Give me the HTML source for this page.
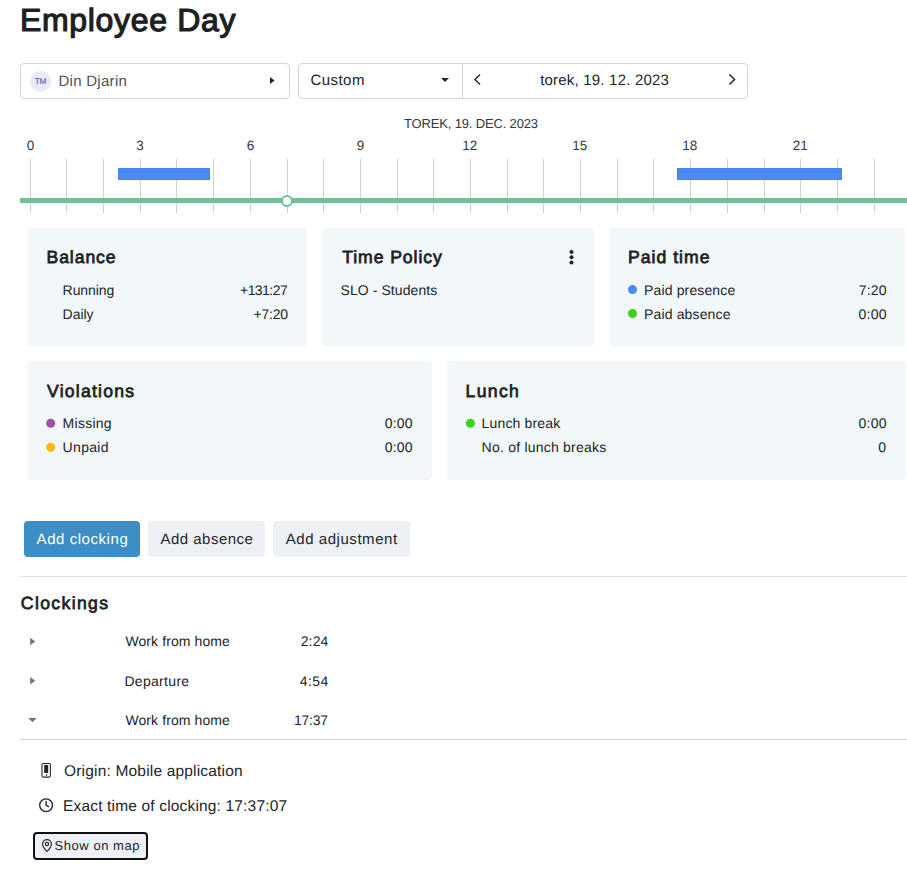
<!DOCTYPE html>
<html><head><meta charset="utf-8"><title>Employee Day</title>
<style>
html,body{margin:0;padding:0;background:#fff;width:907px;height:874px;overflow:hidden;position:relative}
body{font-family:"Liberation Sans",Arial,sans-serif}
.t{position:absolute;white-space:pre;text-rendering:geometricPrecision}
svg.ov{position:absolute;left:0;top:0}
</style></head><body>
<div class="t" style="left:19.90px;top:4.47px;font-size:32px;line-height:32px;-webkit-text-stroke:1.2px #1c1f23;color:#1c1f23;letter-spacing:0.691px;">Employee Day</div>
<div style="position:absolute;left:20px;top:63px;width:270px;height:36px;box-sizing:border-box;border:1px solid #cfd5dc;border-radius:4px;background:#fff"></div>
<div style="position:absolute;left:298px;top:63px;width:450px;height:36px;box-sizing:border-box;border:1px solid #cfd5dc;border-radius:4px;background:#fff"></div>
<div style="position:absolute;left:462px;top:63px;width:1px;height:36px;background:#cfd5dc"></div>
<div style="position:absolute;left:30px;top:71px;width:21px;height:21px;border-radius:50%;background:#e9ebf7"></div>
<div class="t" style="left:34.70px;top:77.34px;font-size:8.4px;line-height:8.4px;-webkit-text-stroke:0.15px #5a5eb4;color:#5a5eb4;letter-spacing:-0.400px;">TM</div>
<div class="t" style="left:58.40px;top:74.29px;font-size:15px;line-height:15px;color:#4a5057;letter-spacing:0.289px;">Din Djarin</div>
<div class="t" style="left:310.60px;top:73.09px;font-size:15px;line-height:15px;color:#212529;letter-spacing:0.420px;">Custom</div>
<div class="t" style="left:540.20px;top:73.09px;font-size:15px;line-height:15px;color:#212529;letter-spacing:0.200px;">torek, 19. 12. 2023</div>
<div class="t" style="left:404.00px;top:117.22px;font-size:13px;line-height:13px;color:#33383d;letter-spacing:-0.158px;">TOREK, 19. DEC. 2023</div>
<div class="t" style="left:26.70px;top:139.14px;font-size:13.5px;line-height:13.5px;color:#33383d;">0</div>
<div class="t" style="left:136.20px;top:139.14px;font-size:13.5px;line-height:13.5px;color:#33383d;">3</div>
<div class="t" style="left:246.70px;top:139.14px;font-size:13.5px;line-height:13.5px;color:#33383d;">6</div>
<div class="t" style="left:356.70px;top:139.14px;font-size:13.5px;line-height:13.5px;color:#33383d;">9</div>
<div class="t" style="left:462.20px;top:139.14px;font-size:13.5px;line-height:13.5px;color:#33383d;">12</div>
<div class="t" style="left:572.20px;top:139.14px;font-size:13.5px;line-height:13.5px;color:#33383d;">15</div>
<div class="t" style="left:682.20px;top:139.14px;font-size:13.5px;line-height:13.5px;color:#33383d;">18</div>
<div class="t" style="left:792.70px;top:139.14px;font-size:13.5px;line-height:13.5px;color:#33383d;">21</div>
<div style="position:absolute;left:28px;top:228px;width:279px;height:118px;background:#f2f7fa;border-radius:4px"></div>
<div style="position:absolute;left:322px;top:228px;width:272px;height:118px;background:#f2f7fa;border-radius:4px"></div>
<div style="position:absolute;left:609px;top:228px;width:296px;height:118px;background:#f2f7fa;border-radius:4px"></div>
<div style="position:absolute;left:28px;top:361px;width:404px;height:119px;background:#f2f7fa;border-radius:4px"></div>
<div style="position:absolute;left:447px;top:361px;width:459px;height:119px;background:#f2f7fa;border-radius:4px"></div>
<div class="t" style="left:46.50px;top:249.37px;font-size:17.6px;line-height:17.6px;-webkit-text-stroke:0.75px #1c1f23;color:#1c1f23;letter-spacing:0.917px;">Balance</div>
<div class="t" style="left:62.60px;top:283.04px;font-size:14px;line-height:14px;color:#212529;letter-spacing:-0.067px;">Running</div>
<div class="t" style="left:62.60px;top:306.84px;font-size:14px;line-height:14px;color:#212529;letter-spacing:-0.025px;">Daily</div>
<div class="t" style="left:240.00px;top:283.04px;font-size:14px;line-height:14px;color:#212529;letter-spacing:-0.550px;">+131:27</div>
<div class="t" style="left:253.50px;top:306.84px;font-size:14px;line-height:14px;color:#212529;letter-spacing:-0.200px;">+7:20</div>
<div class="t" style="left:342.20px;top:249.37px;font-size:17.6px;line-height:17.6px;-webkit-text-stroke:0.75px #1c1f23;color:#1c1f23;letter-spacing:0.930px;">Time Policy</div>
<div class="t" style="left:340.50px;top:283.04px;font-size:14px;line-height:14px;color:#212529;letter-spacing:0.077px;">SLO - Students</div>
<div class="t" style="left:627.90px;top:249.37px;font-size:17.6px;line-height:17.6px;-webkit-text-stroke:0.75px #1c1f23;color:#1c1f23;letter-spacing:1.037px;">Paid time</div>
<div class="t" style="left:644.10px;top:283.04px;font-size:14px;line-height:14px;color:#212529;letter-spacing:0.133px;">Paid presence</div>
<div class="t" style="left:644.10px;top:306.84px;font-size:14px;line-height:14px;color:#212529;letter-spacing:0.136px;">Paid absence</div>
<div class="t" style="left:858.80px;top:283.04px;font-size:14px;line-height:14px;color:#212529;letter-spacing:0.167px;">7:20</div>
<div class="t" style="left:858.50px;top:306.84px;font-size:14px;line-height:14px;color:#212529;letter-spacing:0.267px;">0:00</div>
<div class="t" style="left:47.00px;top:383.37px;font-size:17.6px;line-height:17.6px;-webkit-text-stroke:0.75px #1c1f23;color:#1c1f23;letter-spacing:1.233px;">Violations</div>
<div class="t" style="left:62.60px;top:416.04px;font-size:14px;line-height:14px;color:#212529;letter-spacing:0.267px;">Missing</div>
<div class="t" style="left:62.60px;top:439.84px;font-size:14px;line-height:14px;color:#212529;letter-spacing:0.320px;">Unpaid</div>
<div class="t" style="left:384.70px;top:416.04px;font-size:14px;line-height:14px;color:#212529;letter-spacing:0.233px;">0:00</div>
<div class="t" style="left:384.70px;top:439.84px;font-size:14px;line-height:14px;color:#212529;letter-spacing:0.233px;">0:00</div>
<div class="t" style="left:465.50px;top:383.37px;font-size:17.6px;line-height:17.6px;-webkit-text-stroke:0.75px #1c1f23;color:#1c1f23;letter-spacing:1.350px;">Lunch</div>
<div class="t" style="left:481.60px;top:416.04px;font-size:14px;line-height:14px;color:#212529;letter-spacing:0.160px;">Lunch break</div>
<div class="t" style="left:481.60px;top:439.84px;font-size:14px;line-height:14px;color:#212529;letter-spacing:0.222px;">No. of lunch breaks</div>
<div class="t" style="left:858.50px;top:416.04px;font-size:14px;line-height:14px;color:#212529;letter-spacing:0.267px;">0:00</div>
<div class="t" style="left:878.30px;top:439.84px;font-size:14px;line-height:14px;color:#212529;">0</div>
<div style="position:absolute;left:24px;top:521px;width:116px;height:36px;background:#3c8ec4;border-radius:4px"></div>
<div style="position:absolute;left:148px;top:521px;width:117px;height:36px;background:#edf1f5;border-radius:4px"></div>
<div style="position:absolute;left:273px;top:521px;width:137px;height:36px;background:#edf1f5;border-radius:4px"></div>
<div class="t" style="left:36.60px;top:531.89px;font-size:15px;line-height:15px;color:#ffffff;letter-spacing:0.555px;">Add clocking</div>
<div class="t" style="left:160.50px;top:531.89px;font-size:15px;line-height:15px;color:#212529;letter-spacing:0.480px;">Add absence</div>
<div class="t" style="left:285.70px;top:531.89px;font-size:15px;line-height:15px;color:#212529;letter-spacing:0.554px;">Add adjustment</div>
<div style="position:absolute;left:20px;top:576px;width:887px;height:1px;background:#dee2e6"></div>
<div class="t" style="left:20.80px;top:595.37px;font-size:17.6px;line-height:17.6px;-webkit-text-stroke:0.75px #1c1f23;color:#1c1f23;letter-spacing:1.375px;">Clockings</div>
<div class="t" style="left:125.40px;top:634.24px;font-size:14px;line-height:14px;color:#212529;letter-spacing:0.092px;">Work from home</div>
<div class="t" style="left:124.40px;top:673.94px;font-size:14px;line-height:14px;color:#212529;letter-spacing:0.312px;">Departure</div>
<div class="t" style="left:125.40px;top:713.04px;font-size:14px;line-height:14px;color:#212529;letter-spacing:0.092px;">Work from home</div>
<div class="t" style="left:300.70px;top:634.24px;font-size:14px;line-height:14px;color:#212529;letter-spacing:0.133px;">2:24</div>
<div class="t" style="left:299.80px;top:673.94px;font-size:14px;line-height:14px;color:#212529;letter-spacing:0.433px;">4:54</div>
<div class="t" style="left:294.00px;top:713.04px;font-size:14px;line-height:14px;color:#212529;letter-spacing:-0.225px;">17:37</div>
<div style="position:absolute;left:20px;top:739px;width:887px;height:1px;background:#ced4da"></div>
<div class="t" style="left:64.00px;top:764.02px;font-size:15.5px;line-height:15.5px;color:#212529;letter-spacing:0.184px;">Origin: Mobile application</div>
<div class="t" style="left:63.00px;top:799.22px;font-size:15.5px;line-height:15.5px;color:#212529;letter-spacing:0.168px;">Exact time of clocking: 17:37:07</div>
<div style="position:absolute;left:33px;top:832px;width:115px;height:28px;box-sizing:border-box;border:2px solid #111;border-radius:4px;background:#edf1f5"></div>
<div class="t" style="left:54.50px;top:838.92px;font-size:13px;line-height:13px;color:#212529;letter-spacing:0.550px;">Show on map</div>
<svg class="ov" width="907" height="874" viewBox="0 0 907 874">
<rect x="30" y="159" width="1" height="54" fill="#d0d0d0"/>
<rect x="66" y="159" width="1" height="54" fill="#d0d0d0"/>
<rect x="103" y="159" width="1" height="54" fill="#d0d0d0"/>
<rect x="140" y="159" width="1" height="54" fill="#d0d0d0"/>
<rect x="176" y="159" width="1" height="54" fill="#d0d0d0"/>
<rect x="213" y="159" width="1" height="54" fill="#d0d0d0"/>
<rect x="250" y="159" width="1" height="54" fill="#d0d0d0"/>
<rect x="287" y="159" width="1" height="54" fill="#d0d0d0"/>
<rect x="323" y="159" width="1" height="54" fill="#d0d0d0"/>
<rect x="360" y="159" width="1" height="54" fill="#d0d0d0"/>
<rect x="397" y="159" width="1" height="54" fill="#d0d0d0"/>
<rect x="433" y="159" width="1" height="54" fill="#d0d0d0"/>
<rect x="470" y="159" width="1" height="54" fill="#d0d0d0"/>
<rect x="507" y="159" width="1" height="54" fill="#d0d0d0"/>
<rect x="543" y="159" width="1" height="54" fill="#d0d0d0"/>
<rect x="580" y="159" width="1" height="54" fill="#d0d0d0"/>
<rect x="617" y="159" width="1" height="54" fill="#d0d0d0"/>
<rect x="653" y="159" width="1" height="54" fill="#d0d0d0"/>
<rect x="690" y="159" width="1" height="54" fill="#d0d0d0"/>
<rect x="727" y="159" width="1" height="54" fill="#d0d0d0"/>
<rect x="764" y="159" width="1" height="54" fill="#d0d0d0"/>
<rect x="800" y="159" width="1" height="54" fill="#d0d0d0"/>
<rect x="837" y="159" width="1" height="54" fill="#d0d0d0"/>
<rect x="874" y="159" width="1" height="54" fill="#d0d0d0"/>
<rect x="118.5" y="168.5" width="91" height="11" fill="#4b8af1" stroke="#4183f1" stroke-width="1"/>
<rect x="677.5" y="168.5" width="164" height="11" fill="#4b8af1" stroke="#4183f1" stroke-width="1"/>
<rect x="20" y="198" width="887" height="5" fill="#72bf94"/>
<circle cx="287" cy="201" r="5" fill="#fff" stroke="#72bf94" stroke-width="2"/>
<polygon points="270,77 274.5,80.5 270,84" fill="#212529"/>
<polygon points="441,78 449,78 445,82" fill="#212529"/>
<polyline points="480,74.5 475,79.5 480,84.5" fill="none" stroke="#262b30" stroke-width="1.5"/>
<polyline points="729.5,74.5 734.5,79.5 729.5,84.5" fill="none" stroke="#262b30" stroke-width="1.5"/>
<circle cx="571.5" cy="252" r="2" fill="#212529"/>
<circle cx="571.5" cy="257.3" r="2" fill="#212529"/>
<circle cx="571.5" cy="262.6" r="2" fill="#212529"/>
<circle cx="632.5" cy="289.6" r="4.5" fill="#4a89f0"/>
<circle cx="632.5" cy="313.5" r="4.5" fill="#3fd11c"/>
<circle cx="50.7" cy="423.2" r="4.5" fill="#a24fa8"/>
<circle cx="50.7" cy="447.2" r="4.5" fill="#ffba08"/>
<circle cx="470.4" cy="423.2" r="4.5" fill="#3fd11c"/>
<polygon points="30.2,637.8 35.2,641.5 30.2,645.2" fill="#6b7480"/>
<polygon points="30.2,677 35.2,680.8 30.2,684.6" fill="#6b7480"/>
<polygon points="28.3,718 36.6,718 32.45,722.2" fill="#6b7480"/>
<rect x="42.0" y="763.5" width="8.4" height="13.6" rx="1.3" fill="none" stroke="#212529" stroke-width="1.05"/>
<rect x="44.2" y="765" width="4" height="8" fill="#212529"/>
<rect x="45.9" y="774.2" width="1.2" height="1.6" fill="#212529"/>
<g transform="translate(38.4,797.6) scale(0.64)" fill="none" stroke="#212529" stroke-width="2.1" stroke-linecap="round" stroke-linejoin="round"><circle cx="12" cy="12" r="10"/><polyline points="12 6 12 12 16 14"/></g>
<g transform="translate(42,839)" fill="none" stroke="#212529" stroke-width="1.15"><path d="M5 12.4 C5 12.4 9.4 8.4 9.4 5 A4.4 4.4 0 0 0 0.6 5 C0.6 8.4 5 12.4 5 12.4 Z"/><circle cx="5" cy="5" r="1.6"/></g>
</svg>
</body></html>
